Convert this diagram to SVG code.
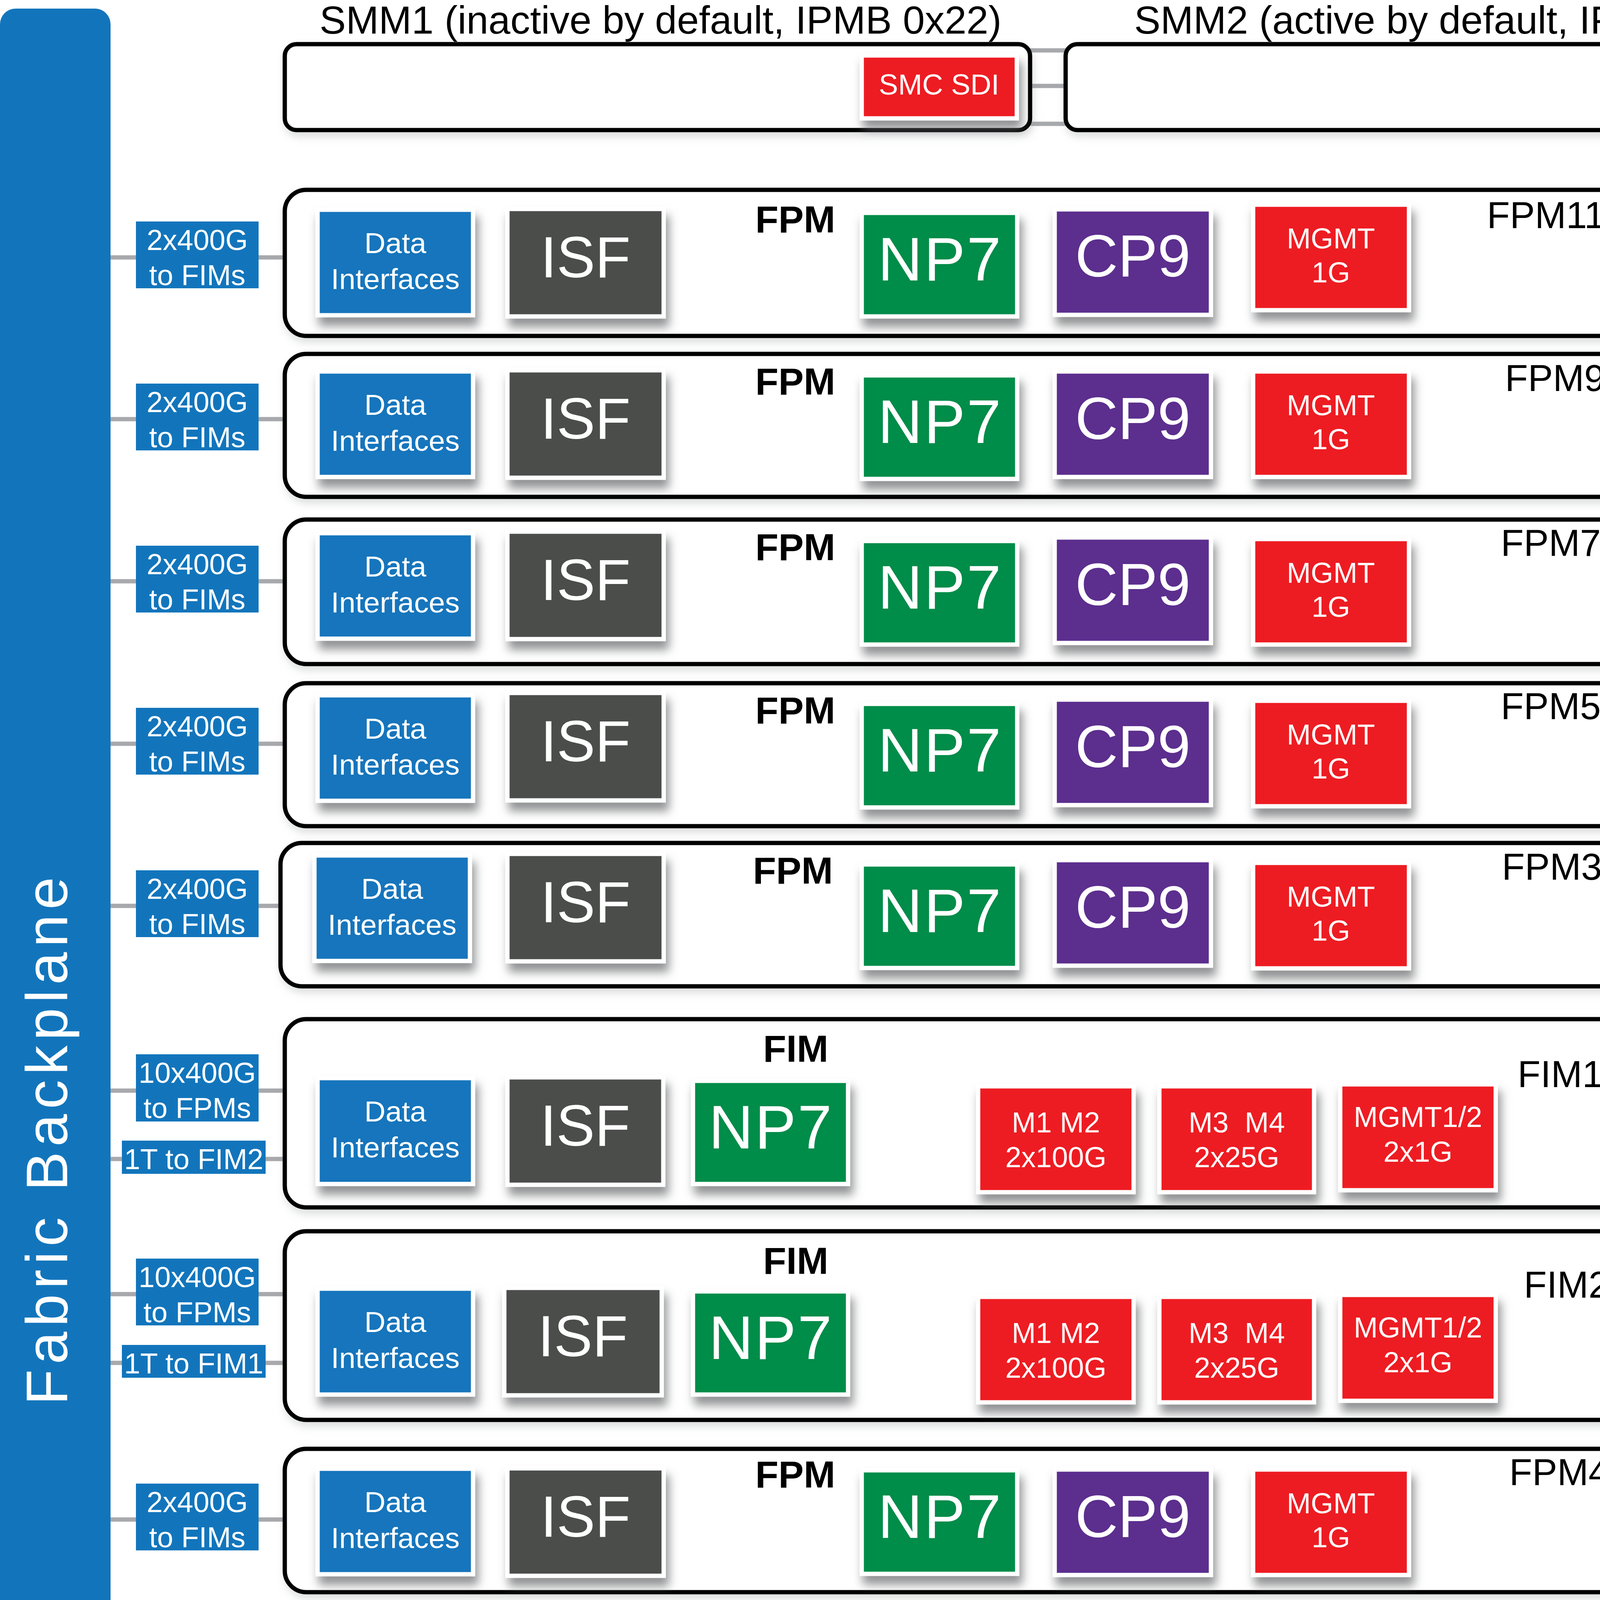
<svg xmlns="http://www.w3.org/2000/svg" width="5556" height="5823" viewBox="0 0 5556 5823">
<defs>
<filter id="sh" x="-20%" y="-20%" width="150%" height="170%"><feDropShadow dx="8" dy="22" stdDeviation="12" flood-color="#6D6E71" flood-opacity="0.75"/></filter>
<filter id="fs" x="-5%" y="-20%" width="110%" height="150%"><feDropShadow dx="4" dy="12" stdDeviation="10" flood-color="#939598" flood-opacity="0.3"/></filter>
<style>
text{font-family:"Liberation Sans",Arial,Helvetica,sans-serif}
.fr{fill:#fff;stroke:#000;stroke-width:11;filter:url(#fs)}
.bx{stroke:#fff;stroke-width:11;filter:url(#sh)}
.b{fill:#1275BC}.r{fill:#ED1C24}.g{fill:#008C4A}.p{fill:#5B2D8E}.k{fill:#4B4D4C}
.w{fill:#fff;text-anchor:middle;font-size:74px}
.di{font-size:75px}
.isf{font-size:148px}
.np{font-size:158px;letter-spacing:4px}
.cp{font-size:152px}
.ttl{fill:#000;font-size:96px;text-anchor:end}
.smm{fill:#000;font-size:101px;text-anchor:middle}
.hd{fill:#000;font-size:97px;font-weight:bold;text-anchor:middle}
.ln{stroke:#A7A9AC;stroke-width:11;fill:none}
.pre{white-space:pre}
.bp{fill:#fff;font-size:150px}
</style>
</defs>
<rect width="5556" height="5823" fill="#fff"/>

<g id="fabric-backplane">
<rect x="0" y="22" width="283" height="5787" rx="40" class="b"/>
<text class="bp" transform="translate(172,3597) rotate(-90)" textLength="1352" lengthAdjust="spacing">Fabric Backplane</text>
</g>
<g id="base-backplane">
<rect x="5317" y="23" width="233" height="5786" rx="40" fill="#ED1C24" stroke="#EF4137" stroke-width="12"/>
<text class="bp" transform="translate(5390,2280) rotate(90)" textLength="1275" lengthAdjust="spacing">Base Backplane</text>
</g>

<g id="connectors">
<path class="ln" d="M2637 129H5312M2637 220H5312M2637 317H5312"/>
<path class="ln" d="M283 659H729M4649 611H5312M4649 752H5312"/>
<path class="ln" d="M283 1073H729M4649 1044H5312M4649 1184H5312"/>
<path class="ln" d="M283 1488H729M4649 1452H5312M4649 1594H5312"/>
<path class="ln" d="M283 1904H729M4649 1853H5312M4649 1994H5312"/>
<path class="ln" d="M283 2319H718M4643 2263H5312M4643 2404H5312"/>
<path class="ln" d="M283 2792H729M283 2967H729M4649 2737H5312M4649 2847H5312M4649 2957H5312"/>
<path class="ln" d="M283 3313H729M283 3489H729M4649 3289H5312M4649 3399H5312M4649 3504H5312"/>
<path class="ln" d="M283 3890H729M4649 3819H5312M4649 3959H5312"/>
<path class="ln" d="M283 4304H729M4649 4243H5312M4649 4384H5312"/>
<path class="ln" d="M283 4720H729M4649 4652H5312M4649 4793H5312"/>
<path class="ln" d="M283 5169H729M4649 5095H5312M4649 5237H5312"/>
<path class="ln" d="M283 5576H729M4649 5504H5312M4649 5646H5312"/>
<g id="link-labels">
<rect class="r" x="4804" y="86" width="204" height="85"/><text class="w" x="4906" y="159">IPMB</text>
<rect class="r" x="4804" y="181" width="295" height="84"/><text class="w" x="4951" y="254">SERIAL</text>
<rect class="r" x="4804" y="274" width="397" height="85"/><text class="w" x="5002" y="347">1G to FIMs</text>

<rect class="b" x="348" y="567" width="314" height="171"/><text class="w" x="505" y="640">2x400G</text><text class="w" x="505" y="730">to FIMs</text>
<rect class="r" x="4707" y="567" width="516" height="85"/><text class="w" x="4965" y="640">2x50G to FIMs</text>
<rect class="r" x="4698" y="710" width="535" height="85"/><text class="w" x="4965" y="783">IPMB / SERIAL</text>

<rect class="b" x="348" y="982" width="314" height="171"/><text class="w" x="505" y="1055">2x400G</text><text class="w" x="505" y="1145">to FIMs</text>
<rect class="r" x="4707" y="999" width="516" height="85"/><text class="w" x="4965" y="1072">2x50G to FIMs</text>
<rect class="r" x="4698" y="1142" width="535" height="85"/><text class="w" x="4965" y="1215">IPMB / SERIAL</text>

<rect class="b" x="348" y="1397" width="314" height="171"/><text class="w" x="505" y="1470">2x400G</text><text class="w" x="505" y="1560">to FIMs</text>
<rect class="r" x="4707" y="1410" width="516" height="85"/><text class="w" x="4965" y="1483">2x50G to FIMs</text>
<rect class="r" x="4698" y="1552" width="535" height="85"/><text class="w" x="4965" y="1625">IPMB / SERIAL</text>

<rect class="b" x="348" y="1812" width="314" height="171"/><text class="w" x="505" y="1885">2x400G</text><text class="w" x="505" y="1975">to FIMs</text>
<rect class="r" x="4707" y="1811" width="516" height="85"/><text class="w" x="4965" y="1884">2x50G to FIMs</text>
<rect class="r" x="4698" y="1953" width="535" height="85"/><text class="w" x="4965" y="2026">IPMB / SERIAL</text>

<rect class="b" x="348" y="2228" width="314" height="171"/><text class="w" x="505" y="2301">2x400G</text><text class="w" x="505" y="2391">to FIMs</text>
<rect class="r" x="4707" y="2220" width="516" height="85"/><text class="w" x="4965" y="2293">2x50G to FIMs</text>
<rect class="r" x="4698" y="2364" width="535" height="85"/><text class="w" x="4965" y="2437">IPMB / SERIAL</text>

<rect class="b" x="348" y="2699" width="314" height="172"/><text class="w" x="505" y="2772">10x400G</text><text class="w" x="505" y="2862">to FPMs</text>
<rect class="b" x="312" y="2920" width="368" height="85"/><text class="w" x="496" y="2993">1T to FIM2</text>
<rect class="r" x="4698" y="2694" width="570" height="85"/><text class="w" x="4983" y="2767">10x50G to FPMs</text>
<rect class="r" x="4755" y="2806" width="459" height="86"/><text class="w" x="4984" y="2879">50G to FIM2</text>
<rect class="r" x="4678" y="2915" width="609" height="84"/><text class="w" x="4982" y="2988">IPMB/SERIAL/1G</text>

<rect class="b" x="348" y="3222" width="314" height="171"/><text class="w" x="505" y="3295">10x400G</text><text class="w" x="505" y="3385">to FPMs</text>
<rect class="b" x="312" y="3443" width="368" height="84"/><text class="w" x="496" y="3516">1T to FIM1</text>
<rect class="r" x="4698" y="3247" width="570" height="84"/><text class="w" x="4983" y="3320">10x50G to FPMs</text>
<rect class="r" x="4755" y="3359" width="459" height="84"/><text class="w" x="4984" y="3432">50G to FIM1</text>
<rect class="r" x="4678" y="3463" width="609" height="85"/><text class="w" x="4982" y="3536">IPMB/SERIAL/1G</text>

<rect class="b" x="348" y="3798" width="314" height="171"/><text class="w" x="505" y="3871">2x400G</text><text class="w" x="505" y="3961">to FIMs</text>
<rect class="r" x="4707" y="3777" width="516" height="85"/><text class="w" x="4965" y="3850">2x50G to FIMs</text>
<rect class="r" x="4698" y="3917" width="535" height="85"/><text class="w" x="4965" y="3990">IPMB / SERIAL</text>

<rect class="b" x="348" y="4214" width="314" height="171"/><text class="w" x="505" y="4287">2x400G</text><text class="w" x="505" y="4377">to FIMs</text>
<rect class="r" x="4707" y="4202" width="516" height="85"/><text class="w" x="4965" y="4275">2x50G to FIMs</text>
<rect class="r" x="4698" y="4343" width="535" height="85"/><text class="w" x="4965" y="4416">IPMB / SERIAL</text>

<rect class="b" x="348" y="4628" width="314" height="171"/><text class="w" x="505" y="4701">2x400G</text><text class="w" x="505" y="4791">to FIMs</text>
<rect class="r" x="4707" y="4610" width="516" height="85"/><text class="w" x="4965" y="4683">2x50G to FIMs</text>
<rect class="r" x="4698" y="4752" width="535" height="85"/><text class="w" x="4965" y="4825">IPMB / SERIAL</text>

<rect class="b" x="348" y="5077" width="314" height="171"/><text class="w" x="505" y="5150">2x400G</text><text class="w" x="505" y="5240">to FIMs</text>
<rect class="r" x="4707" y="5054" width="516" height="85"/><text class="w" x="4965" y="5127">2x50G to FIMs</text>
<rect class="r" x="4698" y="5195" width="535" height="85"/><text class="w" x="4965" y="5268">IPMB / SERIAL</text>

<rect class="b" x="348" y="5483" width="314" height="171"/><text class="w" x="505" y="5556">2x400G</text><text class="w" x="505" y="5646">to FIMs</text>
<rect class="r" x="4707" y="5463" width="516" height="85"/><text class="w" x="4965" y="5536">2x50G to FIMs</text>
<rect class="r" x="4698" y="5604" width="535" height="85"/><text class="w" x="4965" y="5677">IPMB / SERIAL</text>
</g>
</g>

<g id="smm1">
<text class="smm" x="1691" y="86">SMM1 (inactive by default, IPMB 0x22)</text>
<rect class="fr" x="729" y="113" width="1908" height="220" rx="30"/>
<g id="smm1-smc"><rect class="bx r" x="2206" y="142" width="397" height="161"/><text class="w" x="2404" y="242">SMC SDI</text></g>
</g>
<g id="smm2">
<text class="smm" x="3737" y="86">SMM2 (active by default, IPMB 0x20)</text>
<rect class="fr" x="2728" y="113" width="1919" height="220" rx="30"/>
<g id="smm2-smc"><rect class="bx r" x="4221" y="142" width="397" height="161"/><text class="w" x="4419" y="242">SMC SDI</text></g>
</g>

<g id="fpm11">
<rect class="fr" x="729" y="486" width="3920" height="374" rx="55"/>
<g id="fpm11-di"><rect class="bx b" x="813" y="537" width="398" height="270"/><text class="w di" x="1012" y="648">Data</text><text class="w di" x="1012" y="740">Interfaces</text></g>
<g id="fpm11-isf"><rect class="bx k" x="1299" y="535" width="400" height="275"/><text class="w isf" x="1499" y="710">ISF</text></g>
<text class="hd" x="2036" y="595">FPM</text>
<g id="fpm11-np7"><rect class="bx g" x="2206" y="545" width="398" height="265"/><text class="w np" x="2407" y="718">NP7</text></g>
<g id="fpm11-cp9"><rect class="bx p" x="2700" y="536" width="400" height="270"/><text class="w cp" x="2900" y="708">CP9</text></g>
<g id="fpm11-mgmt"><rect class="bx r" x="3208" y="524" width="399" height="270"/><text class="w" x="3407" y="636">MGMT</text><text class="w" x="3407" y="723">1G</text></g>
<text class="ttl" x="4605" y="584">FPM11 IPMB 0x96</text>
<g id="fpm11-smc"><rect class="bx r" x="4221" y="601" width="397" height="162"/><text class="w" x="4419" y="701">SMC SDI</text></g>
</g>

<g id="fpm9">
<rect class="fr" x="729" y="906" width="3920" height="366" rx="55"/>
<g id="fpm9-di"><rect class="bx b" x="813" y="951" width="398" height="270"/><text class="w di" x="1012" y="1062">Data</text><text class="w di" x="1012" y="1154">Interfaces</text></g>
<g id="fpm9-isf"><rect class="bx k" x="1299" y="948" width="400" height="275"/><text class="w isf" x="1499" y="1123">ISF</text></g>
<text class="hd" x="2036" y="1010">FPM</text>
<g id="fpm9-np7"><rect class="bx g" x="2206" y="961" width="398" height="265"/><text class="w np" x="2407" y="1134">NP7</text></g>
<g id="fpm9-cp9"><rect class="bx p" x="2700" y="951" width="400" height="270"/><text class="w cp" x="2900" y="1124">CP9</text></g>
<g id="fpm9-mgmt"><rect class="bx r" x="3208" y="951" width="399" height="270"/><text class="w" x="3407" y="1063">MGMT</text><text class="w" x="3407" y="1150">1G</text></g>
<text class="ttl" x="4605" y="1001">FPM9 IPMB 0x92</text>
<g id="fpm9-smc"><rect class="bx r" x="4221" y="1019" width="397" height="162"/><text class="w" x="4419" y="1119">SMC SDI</text></g>
</g>

<g id="fpm7">
<rect class="fr" x="729" y="1330" width="3920" height="370" rx="55"/>
<g id="fpm7-di"><rect class="bx b" x="813" y="1365" width="398" height="270"/><text class="w di" x="1012" y="1476">Data</text><text class="w di" x="1012" y="1568">Interfaces</text></g>
<g id="fpm7-isf"><rect class="bx k" x="1299" y="1361" width="400" height="275"/><text class="w isf" x="1499" y="1536">ISF</text></g>
<text class="hd" x="2036" y="1434">FPM</text>
<g id="fpm7-np7"><rect class="bx g" x="2206" y="1385" width="398" height="265"/><text class="w np" x="2407" y="1558">NP7</text></g>
<g id="fpm7-cp9"><rect class="bx p" x="2700" y="1376" width="400" height="270"/><text class="w cp" x="2900" y="1549">CP9</text></g>
<g id="fpm7-mgmt"><rect class="bx r" x="3208" y="1380" width="399" height="270"/><text class="w" x="3407" y="1492">MGMT</text><text class="w" x="3407" y="1579">1G</text></g>
<text class="ttl" x="4605" y="1423">FPM7 IPMB 0x8E</text>
<g id="fpm7-smc"><rect class="bx r" x="4221" y="1442" width="397" height="162"/><text class="w" x="4419" y="1542">SMC SDI</text></g>
</g>

<g id="fpm5">
<rect class="fr" x="729" y="1749" width="3920" height="366" rx="55"/>
<g id="fpm5-di"><rect class="bx b" x="813" y="1780" width="398" height="270"/><text class="w di" x="1012" y="1891">Data</text><text class="w di" x="1012" y="1983">Interfaces</text></g>
<g id="fpm5-isf"><rect class="bx k" x="1299" y="1774" width="400" height="275"/><text class="w isf" x="1499" y="1949">ISF</text></g>
<text class="hd" x="2036" y="1852">FPM</text>
<g id="fpm5-np7"><rect class="bx g" x="2206" y="1802" width="398" height="265"/><text class="w np" x="2407" y="1975">NP7</text></g>
<g id="fpm5-cp9"><rect class="bx p" x="2700" y="1791" width="400" height="270"/><text class="w cp" x="2900" y="1964">CP9</text></g>
<g id="fpm5-mgmt"><rect class="bx r" x="3208" y="1794" width="399" height="270"/><text class="w" x="3407" y="1906">MGMT</text><text class="w" x="3407" y="1993">1G</text></g>
<text class="ttl" x="4605" y="1841">FPM5 IPMB 0x8A</text>
<g id="fpm5-smc"><rect class="bx r" x="4221" y="1858" width="397" height="162"/><text class="w" x="4419" y="1958">SMC SDI</text></g>
</g>

<g id="fpm3">
<rect class="fr" x="718" y="2158" width="3925" height="367" rx="55"/>
<g id="fpm3-di"><rect class="bx b" x="805" y="2190" width="398" height="270"/><text class="w di" x="1004" y="2301">Data</text><text class="w di" x="1004" y="2393">Interfaces</text></g>
<g id="fpm3-isf"><rect class="bx k" x="1299" y="2186" width="400" height="275"/><text class="w isf" x="1499" y="2361">ISF</text></g>
<text class="hd" x="2030" y="2262">FPM</text>
<g id="fpm3-np7"><rect class="bx g" x="2206" y="2213" width="398" height="265"/><text class="w np" x="2407" y="2386">NP7</text></g>
<g id="fpm3-cp9"><rect class="bx p" x="2700" y="2202" width="400" height="270"/><text class="w cp" x="2900" y="2375">CP9</text></g>
<g id="fpm3-mgmt"><rect class="bx r" x="3208" y="2209" width="399" height="270"/><text class="w" x="3407" y="2321">MGMT</text><text class="w" x="3407" y="2408">1G</text></g>
<text class="ttl" x="4597" y="2252">FPM3 IPMB 0x86</text>
<g id="fpm3-smc"><rect class="bx r" x="4212" y="2269" width="397" height="162"/><text class="w" x="4411" y="2369">SMC SDI</text></g>
</g>

<g id="fim1">
<rect class="fr" x="729" y="2609" width="3920" height="482" rx="55"/>
<text class="hd" x="2037" y="2718">FIM</text>
<g id="fim1-di"><rect class="bx b" x="813" y="2760" width="398" height="271"/><text class="w di" x="1012" y="2871">Data</text><text class="w di" x="1012" y="2963">Interfaces</text></g>
<g id="fim1-isf"><rect class="bx k" x="1299" y="2758" width="399" height="275"/><text class="w isf" x="1498" y="2933">ISF</text></g>
<g id="fim1-np7"><rect class="bx g" x="1774" y="2767" width="397" height="264"/><text class="w np" x="1974" y="2940">NP7</text></g>
<g id="fim1-m12"><rect class="bx r" x="2504" y="2781" width="398" height="271"/><text class="w" x="2703" y="2899">M1 M2</text><text class="w" x="2703" y="2988">2x100G</text></g>
<g id="fim1-m34"><rect class="bx r" x="2968" y="2781" width="396" height="271"/><text class="w pre" x="3166" y="2899">M3  M4</text><text class="w" x="3166" y="2988">2x25G</text></g>
<g id="fim1-mgmt"><rect class="bx r" x="3431" y="2776" width="398" height="271"/><text class="w" x="3630" y="2885">MGMT1/2</text><text class="w" x="3630" y="2974">2x1G</text></g>
<text class="ttl" x="4600" y="2783">FIM1 IPMB 0x82</text>
<g id="fim1-smc"><rect class="bx r" x="4221" y="2806" width="397" height="161"/><text class="w" x="4419" y="2906">SMC SDI</text></g>
</g>

<g id="fim2">
<rect class="fr" x="729" y="3152" width="3920" height="483" rx="55"/>
<text class="hd" x="2037" y="3261">FIM</text>
<g id="fim2-di"><rect class="bx b" x="813" y="3299" width="398" height="271"/><text class="w di" x="1012" y="3410">Data</text><text class="w di" x="1012" y="3502">Interfaces</text></g>
<g id="fim2-isf"><rect class="bx k" x="1291" y="3297" width="403" height="275"/><text class="w isf" x="1492" y="3472">ISF</text></g>
<g id="fim2-np7"><rect class="bx g" x="1774" y="3306" width="397" height="264"/><text class="w np" x="1974" y="3479">NP7</text></g>
<g id="fim2-m12"><rect class="bx r" x="2504" y="3320" width="398" height="270"/><text class="w" x="2703" y="3438">M1 M2</text><text class="w" x="2703" y="3527">2x100G</text></g>
<g id="fim2-m34"><rect class="bx r" x="2968" y="3320" width="396" height="270"/><text class="w pre" x="3166" y="3438">M3  M4</text><text class="w" x="3166" y="3527">2x25G</text></g>
<g id="fim2-mgmt"><rect class="bx r" x="3431" y="3315" width="398" height="271"/><text class="w" x="3630" y="3424">MGMT1/2</text><text class="w" x="3630" y="3513">2x1G</text></g>
<text class="ttl" x="4616" y="3322">FIM2 IPMB 0x84</text>
<g id="fim2-smc"><rect class="bx r" x="4221" y="3343" width="397" height="161"/><text class="w" x="4419" y="3443">SMC SDI</text></g>
</g>

<g id="fpm4">
<rect class="fr" x="729" y="3709" width="3920" height="367" rx="55"/>
<g id="fpm4-di"><rect class="bx b" x="813" y="3760" width="398" height="270"/><text class="w di" x="1012" y="3871">Data</text><text class="w di" x="1012" y="3963">Interfaces</text></g>
<g id="fpm4-isf"><rect class="bx k" x="1299" y="3759" width="400" height="275"/><text class="w isf" x="1499" y="3934">ISF</text></g>
<text class="hd" x="2036" y="3808">FPM</text>
<g id="fpm4-np7"><rect class="bx g" x="2206" y="3764" width="398" height="265"/><text class="w np" x="2407" y="3937">NP7</text></g>
<g id="fpm4-cp9"><rect class="bx p" x="2700" y="3762" width="400" height="270"/><text class="w cp" x="2900" y="3935">CP9</text></g>
<g id="fpm4-mgmt"><rect class="bx r" x="3208" y="3762" width="399" height="270"/><text class="w" x="3407" y="3874">MGMT</text><text class="w" x="3407" y="3961">1G</text></g>
<text class="ttl" x="4616" y="3802">FPM4 IPMB 0x88</text>
<g id="fpm4-smc"><rect class="bx r" x="4221" y="3835" width="397" height="162"/><text class="w" x="4419" y="3935">SMC SDI</text></g>
</g>

<g id="fpm6">
<rect class="fr" x="729" y="4134" width="3920" height="369" rx="55"/>
<g id="fpm6-di"><rect class="bx b" x="813" y="4188" width="398" height="270"/><text class="w di" x="1012" y="4299">Data</text><text class="w di" x="1012" y="4391">Interfaces</text></g>
<g id="fpm6-isf"><rect class="bx k" x="1299" y="4183" width="400" height="275"/><text class="w isf" x="1499" y="4358">ISF</text></g>
<text class="hd" x="2036" y="4233">FPM</text>
<g id="fpm6-np7"><rect class="bx g" x="2206" y="4189" width="398" height="265"/><text class="w np" x="2407" y="4362">NP7</text></g>
<g id="fpm6-cp9"><rect class="bx p" x="2700" y="4187" width="400" height="270"/><text class="w cp" x="2900" y="4360">CP9</text></g>
<g id="fpm6-mgmt"><rect class="bx r" x="3208" y="4189" width="399" height="270"/><text class="w" x="3407" y="4301">MGMT</text><text class="w" x="3407" y="4388">1G</text></g>
<text class="ttl" x="4616" y="4229">FPM6 IPMB 0x8C</text>
<g id="fpm6-smc"><rect class="bx r" x="4221" y="4259" width="397" height="162"/><text class="w" x="4419" y="4359">SMC SDI</text></g>
</g>

<g id="fpm8">
<rect class="fr" x="729" y="4550" width="3920" height="362" rx="55"/>
<g id="fpm8-di"><rect class="bx b" x="813" y="4604" width="398" height="270"/><text class="w di" x="1012" y="4715">Data</text><text class="w di" x="1012" y="4807">Interfaces</text></g>
<g id="fpm8-isf"><rect class="bx k" x="1299" y="4604" width="400" height="275"/><text class="w isf" x="1499" y="4779">ISF</text></g>
<text class="hd" x="2036" y="4640">FPM</text>
<g id="fpm8-np7"><rect class="bx g" x="2206" y="4608" width="398" height="265"/><text class="w np" x="2407" y="4781">NP7</text></g>
<g id="fpm8-cp9"><rect class="bx p" x="2700" y="4602" width="400" height="270"/><text class="w cp" x="2900" y="4775">CP9</text></g>
<g id="fpm8-mgmt"><rect class="bx r" x="3208" y="4595" width="399" height="270"/><text class="w" x="3407" y="4707">MGMT</text><text class="w" x="3407" y="4794">1G</text></g>
<text class="ttl" x="4616" y="4641">FPM8 IPMB 0x90</text>
<g id="fpm8-smc"><rect class="bx r" x="4221" y="4670" width="397" height="162"/><text class="w" x="4419" y="4770">SMC SDI</text></g>
</g>

<g id="fpm10">
<rect class="fr" x="729" y="4989" width="3920" height="366" rx="55"/>
<g id="fpm10-di"><rect class="bx b" x="813" y="5035" width="398" height="270"/><text class="w di" x="1012" y="5146">Data</text><text class="w di" x="1012" y="5238">Interfaces</text></g>
<g id="fpm10-isf"><rect class="bx k" x="1299" y="5035" width="400" height="275"/><text class="w isf" x="1499" y="5210">ISF</text></g>
<text class="hd" x="2036" y="5083">FPM</text>
<g id="fpm10-np7"><rect class="bx g" x="2206" y="5039" width="398" height="265"/><text class="w np" x="2407" y="5212">NP7</text></g>
<g id="fpm10-cp9"><rect class="bx p" x="2700" y="5034" width="400" height="270"/><text class="w cp" x="2900" y="5207">CP9</text></g>
<g id="fpm10-mgmt"><rect class="bx r" x="3208" y="5039" width="399" height="270"/><text class="w" x="3407" y="5151">MGMT</text><text class="w" x="3407" y="5238">1G</text></g>
<text class="ttl" x="4616" y="5082">FPM10 IPMB 0x94</text>
<g id="fpm10-smc"><rect class="bx r" x="4221" y="5111" width="397" height="162"/><text class="w" x="4419" y="5211">SMC SDI</text></g>
</g>

<g id="fpm12">
<rect class="fr" x="729" y="5402" width="3920" height="365" rx="55"/>
<g id="fpm12-di"><rect class="bx b" x="813" y="5451" width="398" height="270"/><text class="w di" x="1012" y="5562">Data</text><text class="w di" x="1012" y="5654">Interfaces</text></g>
<g id="fpm12-isf"><rect class="bx k" x="1299" y="5447" width="400" height="275"/><text class="w isf" x="1499" y="5622">ISF</text></g>
<text class="hd" x="2036" y="5494">FPM</text>
<g id="fpm12-np7"><rect class="bx g" x="2206" y="5455" width="398" height="265"/><text class="w np" x="2407" y="5628">NP7</text></g>
<g id="fpm12-cp9"><rect class="bx p" x="2700" y="5452" width="400" height="270"/><text class="w cp" x="2900" y="5625">CP9</text></g>
<g id="fpm12-mgmt"><rect class="bx r" x="3208" y="5445" width="399" height="270"/><text class="w" x="3407" y="5557">MGMT</text><text class="w" x="3407" y="5644">1G</text></g>
<text class="ttl" x="4616" y="5493">FPM12 IPMB 0x98</text>
<g id="fpm12-smc"><rect class="bx r" x="4221" y="5526" width="397" height="162"/><text class="w" x="4419" y="5626">SMC SDI</text></g>
</g>
</svg>
